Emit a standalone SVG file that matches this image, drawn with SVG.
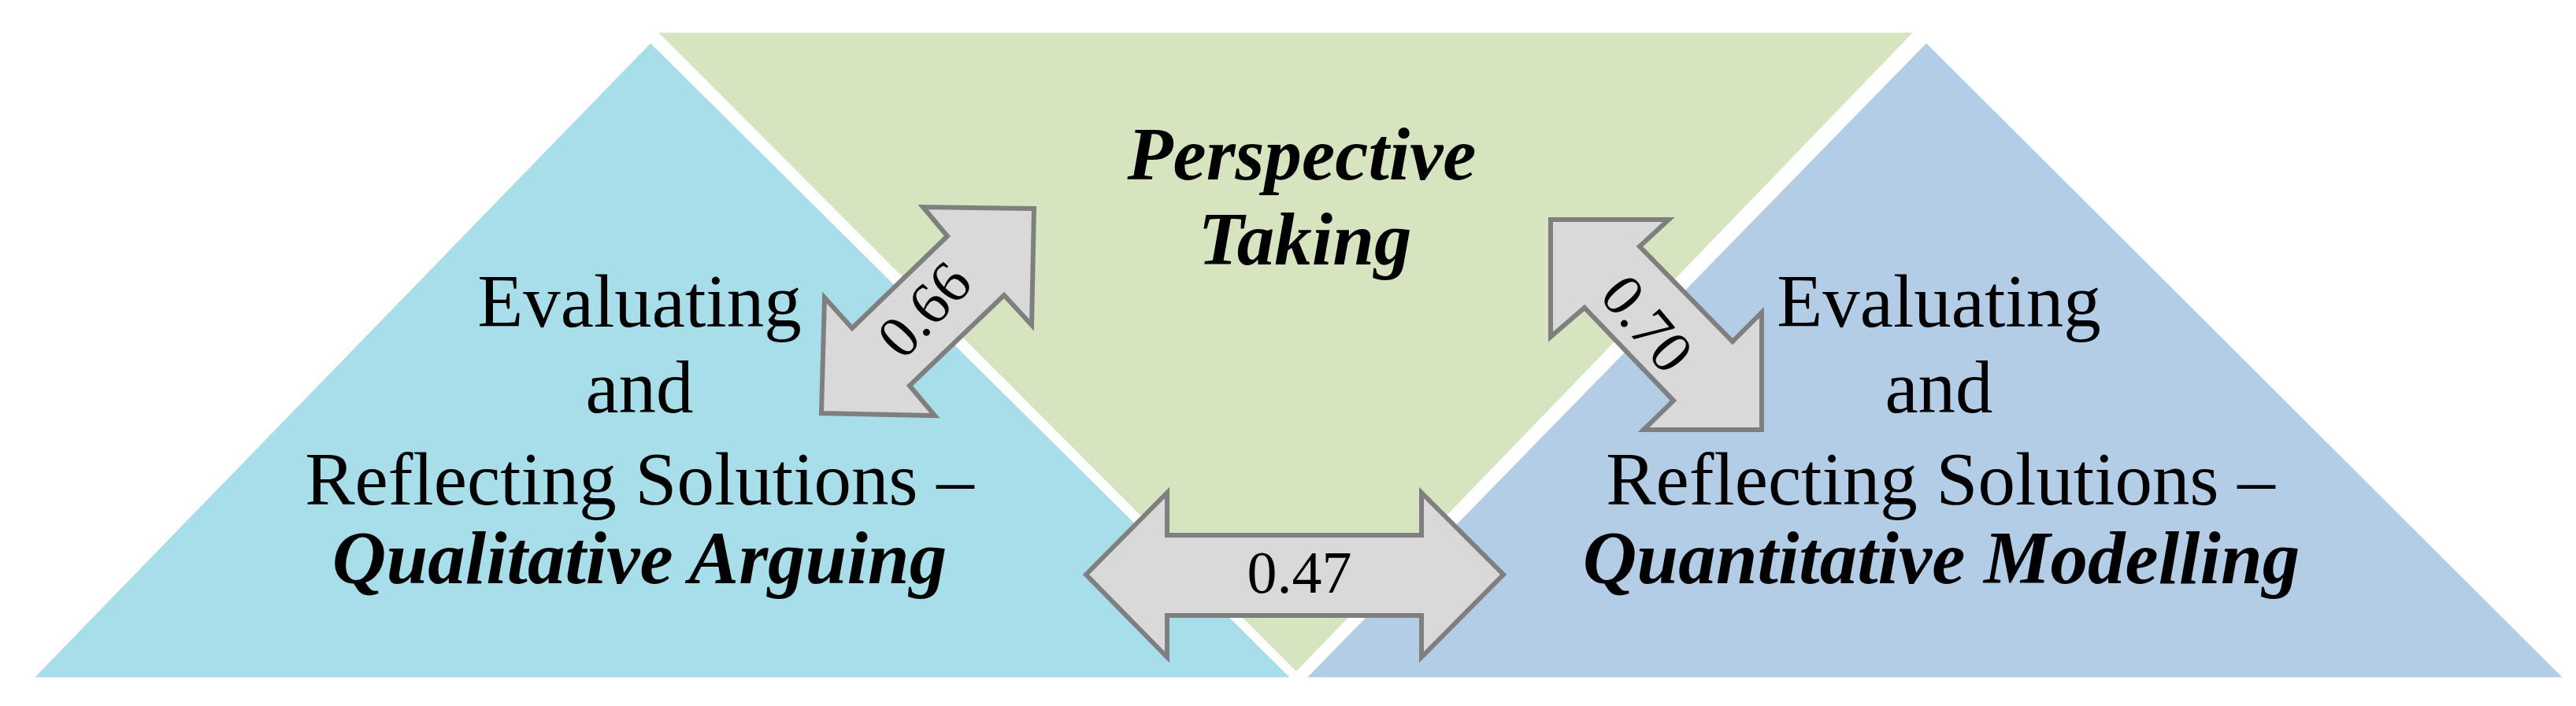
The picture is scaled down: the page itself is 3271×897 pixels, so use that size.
<svg xmlns="http://www.w3.org/2000/svg" width="3271" height="897" viewBox="0 0 3271 897">
<style>
.tri{stroke:#fff;stroke-width:7;stroke-linejoin:miter}
.t{font-family:"Liberation Serif","Times New Roman",serif;font-size:95px;fill:#000;text-anchor:middle}
.bi{font-weight:bold;font-style:italic}
.arr{fill:#D9D9D9;stroke:#7F7F7F;stroke-width:6;stroke-linejoin:miter}
.n{font-family:"Liberation Serif","Times New Roman",serif;font-size:76px;fill:#000;text-anchor:middle}
</style>
<rect width="3271" height="897" fill="#fff"/>
<g id="node-left">
<polygon class="tri" points="826,50 36,864 1646,864" fill="#A8DEEA"/>
<text class="t" x="812" y="415">Evaluating</text>
<text class="t" x="812" y="524">and</text>
<text class="t" x="812" y="641">Reflecting Solutions –</text>
<text class="t bi" x="812" y="741">Qualitative Arguing</text>
</g>
<g id="node-top">
<polygon class="tri" points="828,38 2437,38 1646,858" fill="#D6E4BF"/>
<text class="t bi" x="1653" y="228">Perspective</text>
<text class="t bi" x="1657" y="336">Taking</text>
</g>
<g id="node-right">
<polygon class="tri" points="2446,50 1652,864 3262,864" fill="#B3CDE6"/>
<text class="t" x="2462" y="415">Evaluating</text>
<text class="t" x="2462" y="524">and</text>
<text class="t" x="2464" y="641">Reflecting Solutions –</text>
<text class="t bi" x="2465" y="741">Quantitative Modelling</text>
</g>
<g id="connectors">
<polygon class="arr" points="1313,265 1310,413 1275,375 1155,490 1187,528 1043,525 1047,378 1082,417 1203,300 1172,263"/>
<text class="n" transform="translate(1173,393) rotate(-47)" y="26">0.66</text>
<polygon class="arr" points="1969,279 2119,279 2082,313 2200,434 2237,397 2237,546 2087,546 2125,509 2012,391 1969,428"/>
<text class="n" transform="translate(2092,411) rotate(50)" y="26">0.70</text>
<polygon class="arr" points="1379,730 1482,626 1482,680 1805,680 1805,626 1909,730 1805,835 1805,782 1482,782 1482,835"/>
<text class="n" x="1650" y="753">0.47</text>
</g>
</svg>
